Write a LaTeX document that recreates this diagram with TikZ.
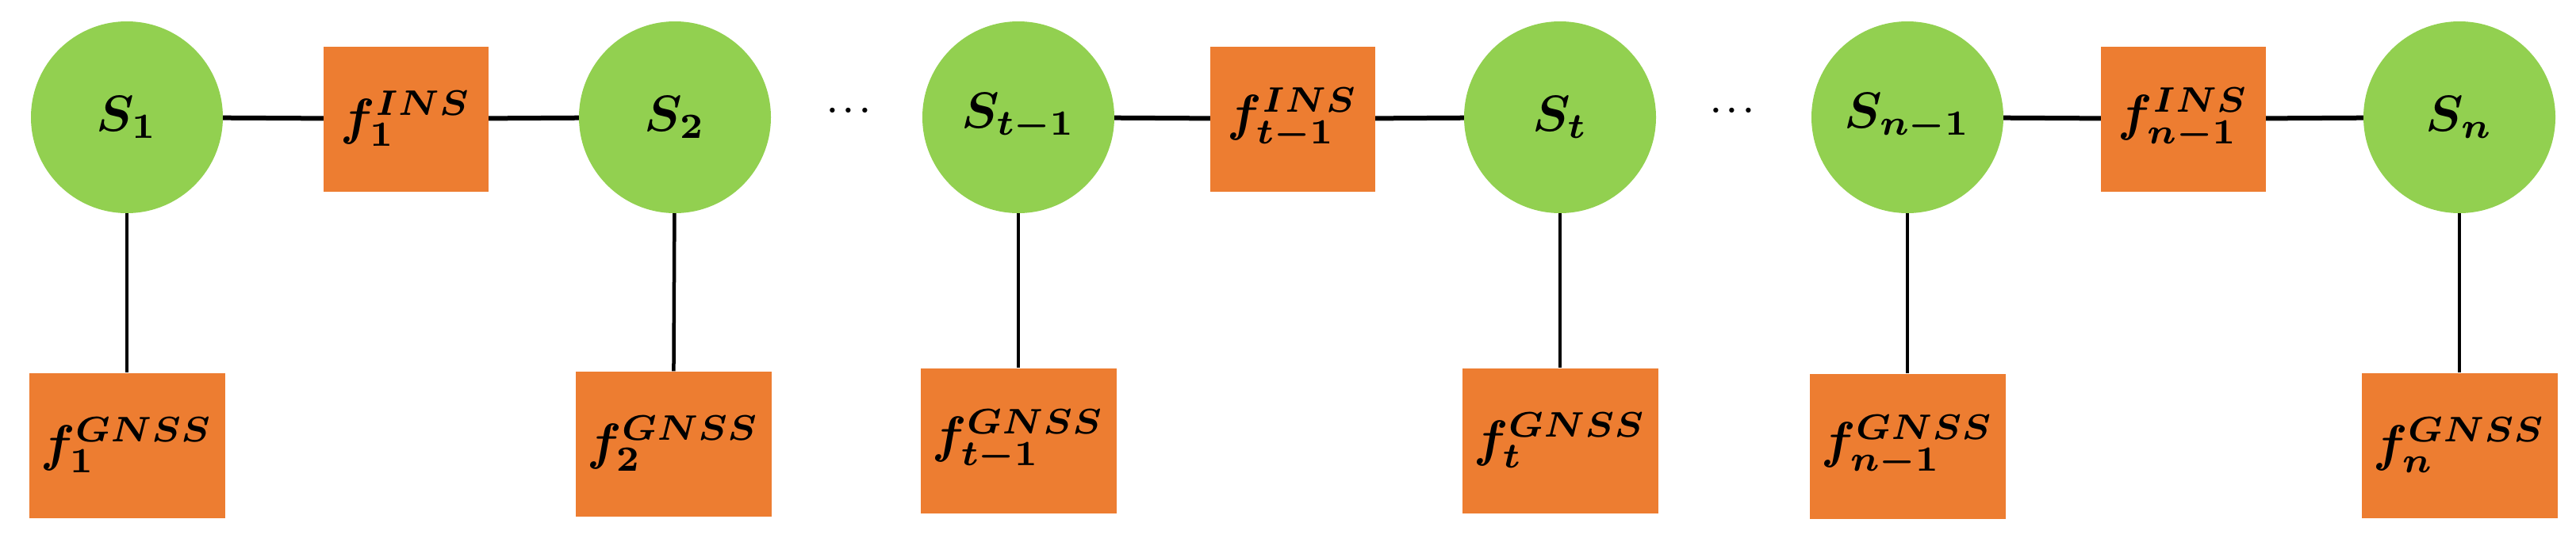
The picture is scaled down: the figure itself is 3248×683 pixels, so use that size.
\documentclass[tikz,border=0pt]{standalone}
\usepackage{bm}
\newcommand{\bgt}[1]{\scalebox{6.4}{$\bm{#1}$}}
\begin{document}
\begin{tikzpicture}[x=1pt,y=-1pt,
  st/.style={circle,fill={rgb,255:red,146;green,208;blue,80},minimum size=242pt,inner sep=0pt},
  fac/.style={rectangle,fill={rgb,255:red,237;green,125;blue,49},minimum width=208pt,minimum height=183pt,inner sep=0pt},
  gfac/.style={fac,minimum width=247pt},
  ln/.style={line width=6pt,black},
  vl/.style={line width=4.5pt,black}]
\useasboundingbox (0,0) rectangle (3248,683);
\node[st] (s1) at (160,148) {\bgt{S_1}};
\node[st] (s2) at (851,148) {\bgt{S_2}};
\node[st] (st1) at (1284,148) {\bgt{S_{t-1}}};
\node[st] (stt) at (1967,148) {\bgt{S_t}};
\node[st] (sn1) at (2405,148) {\bgt{S_{n-1}}};
\node[st] (sn) at (3101,148) {\bgt{S_n}};
\node[fac] (i1) at (512,150) {\bgt{f_1^{INS}}};
\node[fac] (it1) at (1630,150) {\bgt{f_{t-1}^{INS}}};
\node[fac] (in1) at (2753,150) {\bgt{f_{n-1}^{INS}}};
\node[gfac] (g1) at (160,562) {\bgt{f_1^{GNSS}}};
\node[gfac] (g2) at (849,560) {\bgt{f_2^{GNSS}}};
\node[gfac] (gt1) at (1284,556) {\bgt{f_{t-1}^{GNSS}}};
\node[gfac] (gt) at (1967,556) {\bgt{f_t^{GNSS}}};
\node[gfac] (gn1) at (2405,563) {\bgt{f_{n-1}^{GNSS}}};
\node[gfac] (gn) at (3101,562) {\bgt{f_n^{GNSS}}};
\node (d1) at (1070,140) {\scalebox{4}{$\bm{\cdots}$}};
\node (d2) at (2184,140) {\scalebox{4}{$\bm{\cdots}$}};
\draw[ln] (s1) -- (i1); \draw[ln] (i1) -- (s2);
\draw[ln] (st1) -- (it1); \draw[ln] (it1) -- (stt);
\draw[ln] (sn1) -- (in1); \draw[ln] (in1) -- (sn);
\draw[vl] (s1) -- (g1); \draw[vl] (s2) -- (g2);
\draw[vl] (st1) -- (gt1); \draw[vl] (stt) -- (gt);
\draw[vl] (sn1) -- (gn1); \draw[vl] (sn) -- (gn);
\end{tikzpicture}
\end{document}
